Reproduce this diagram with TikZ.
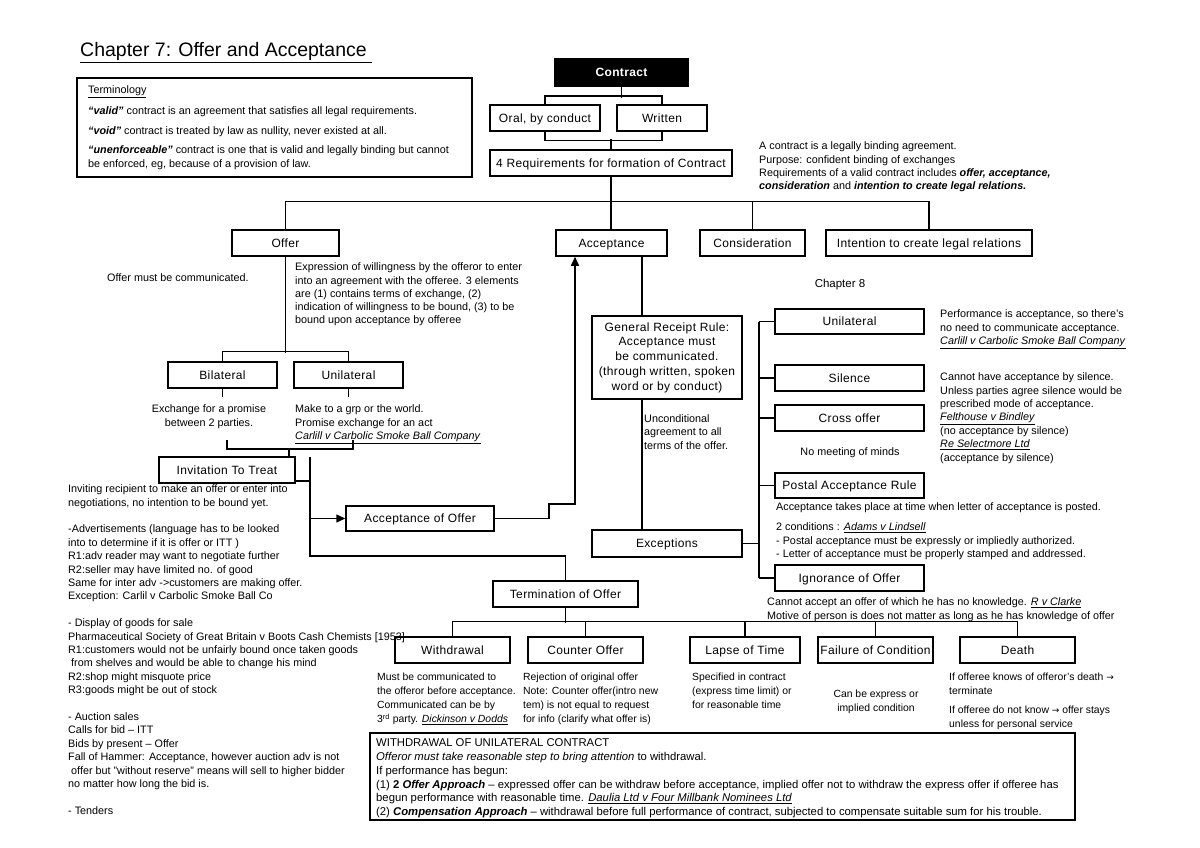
\documentclass[tikz,border=0pt]{standalone}
\usepackage{fontspec}
\setmainfont{Liberation Sans}
\newfontfamily\boxf[LetterSpace=3]{Liberation Sans}
\newfontfamily\dvf{DejaVu Sans}
\usetikzlibrary{arrows.meta}
\newcommand\bodyf{\fontsize{10.8}{13.6}\selectfont}
\newcommand\lblf{\boxf\fontsize{12}{14.8}\selectfont}
\newcommand\fl{\rule{0pt}{9pt}}
\newcommand\arr{{\dvf\fontsize{9}{9}\selectfont →}}
\newcommand\cas[1]{\underline{\textit{#1}}}
\newcommand\bfi[1]{\textbf{\textit{#1}}}
\newcommand\Bx[6]{\node[bx,minimum width={#4-#2},minimum height={#5-#3}] (#1) at ({(#2+#4)/2},{(#3+#5)/2}) {#6};}
\tikzset{
  bxbase/.style={draw, line width=1.5pt, inner sep=1pt, font=\lblf, align=center},
  bx/.style={bxbase, text height=8.6pt, text depth=0pt},
  ln/.style={line width=1.5pt},
  tip/.style={-{Triangle[length=9pt,width=8pt]}},
  txt/.style={anchor=north west, inner sep=0pt, align=left, font=\bodyf, yshift=9pt},
  ctxt/.style={anchor=north, inner sep=0pt, align=center, font=\bodyf, yshift=9pt},
  bigbox/.style={draw, line width=2pt, inner sep=0pt}
}
\begin{document}
\begin{tikzpicture}[x=1pt,y=-1pt]
\fill[white] (0,0) rectangle (1200,848);
\useasboundingbox (0,0) rectangle (1200,848);

% title
\node[anchor=base west, inner sep=0pt, font=\fontsize{19.5}{22}\selectfont] (title) at (80,57) {\underline{Chapter 7: Offer and Acceptance\ }};

% terminology
\node[bigbox, minimum width=395, minimum height=99] (termbox) at (274.5,127.5) {};
\node[txt] (t0) at (88,93.5) {\fl\underline{Terminology}};
\node[txt] (t1) at (88,114.5) {\fl\bfi{“valid”} contract is an agreement that satisfies all legal requirements.};
\node[txt] (t2) at (88,134.5) {\fl\bfi{“void”} contract is treated by law as nullity, never existed at all.};
\node[txt, font=\fontsize{10.8}{14}\selectfont] (t3) at (88,153.5) {\fl\bfi{“unenforceable”} contract is one that is valid and legally binding but cannot\\be enforced, eg, because of a provision of law.};

% top flow
\node[bx, fill=black, text=white, font=\lblf\bfseries, minimum width=133, minimum height=27] (contract) at (621.5,72.5) {Contract};
\Bx{oral}{490}{105}{600}{131}{Oral, by conduct}
\Bx{written}{617}{105}{707}{131}{Written}
\Bx{req}{490}{150}{732}{176}{4 Requirements for formation of Contract}
\draw[ln] (contract.south) -- ++(0,11);
\draw[ln] (oral.north) -- ++(0,-8) -| (written.north);
\draw[ln] (oral.south) -- ++(0,9) -| (written.south);
\draw[ln] (req.north) -- ++(0,-10);

\node[txt, font=\fontsize{10.8}{13.4}\selectfont] (def) at (759,149.5) {\fl A contract is a legally binding agreement.\\Purpose: confident binding of exchanges\\Requirements of a valid contract includes \bfi{offer, acceptance,}\\\bfi{consideration} and \bfi{intention to create legal relations.}};

% level 2
\Bx{offer}{232}{230}{339}{256}{Offer}
\Bx{acc}{556}{230}{667}{256}{Acceptance}
\Bx{cons}{700}{230}{805}{256}{Consideration}
\Bx{intent}{826}{230}{1032}{256}{Intention to create legal relations}
\draw[ln] (offer.north) -- ++(0,-28) -| (intent.north);
\draw[ln] (req.south) -- (req.south |- acc.north);
\draw[ln] (cons.north) -- ++(0,-28);
\node[inner sep=0pt, font=\fontsize{11.5}{13}\selectfont] (ch8) at (840,285) {Chapter 8};

% offer branch
\node[txt] (omc) at (107,281.5) {\fl Offer must be communicated.};
\node[txt, font=\fontsize{10.8}{13.3}\selectfont] (oexp) at (295,270.5) {\fl Expression of willingness by the offeror to enter\\into an agreement with the offeree. 3 elements\\are (1) contains terms of exchange, (2)\\indication of willingness to be bound, (3) to be\\bound upon acceptance by offeree};
\Bx{bil}{168}{362}{277}{388}{Bilateral}
\Bx{uni}{294}{362}{403}{388}{Unilateral}
\draw[ln] (offer.south) -- ++(0,96);
\draw[ln] (bil.north) -- ++(0,-10) -| (uni.north);
\draw[ln] (bil.south) -- ++(0,8);
\draw[ln] (uni.south) -- ++(0,8);
\node[ctxt] (bilt) at (209,412.5) {\fl Exchange for a promise\\between 2 parties.};
\node[txt] (unit) at (295,412.5) {\fl Make to a grp or the world.\\Promise exchange for an act\\\cas{Carlill v Carbolic Smoke Ball Company}};

\coordinate (bl) at (227,440);
\coordinate (br) at (353,440);
\coordinate (bm) at (289,449);
\draw[ln] (bl) -- (bl |- bm) -- (br |- bm) -- (br);
\Bx{itt}{159}{457}{295}{483}{Invitation To Treat}
\draw[ln] (bm) -- (bm |- itt.north);

\Bx{aof}{346}{506}{494}{531}{Acceptance of Offer}
\Bx{term}{493}{581}{638}{607}{Termination of Offer}
\coordinate (s1) at (310,457);
\coordinate (s2) at (310,556);
\coordinate (ie) at (295,481);
\draw[ln] (s1) -- (s2) -| (term.north);
\draw[ln] (ie) -- (ie -| s1);
\draw[ln, tip] (aof.west -| s1) -- (aof.west);
\coordinate (ua) at (575,504);
\draw[ln, tip] (aof.east) -- ++(54,0) |- (ua) -- (ua |- acc.south);

% left column
\node[txt, font=\fontsize{10.8}{13.4}\selectfont] (ittt) at (68,492.5) {\fl Inviting recipient to make an offer or enter into\\negotiations, no intention to be bound yet.\\\mbox{}\\-Advertisements (language has to be looked\\into to determine if it is offer or ITT )\\R1:adv reader may want to negotiate further\\R2:seller may have limited no. of good\\Same for inter adv ->customers are making offer.\\Exception: Carlil v Carbolic Smoke Ball Co\\\mbox{}\\- Display of goods for sale\\Pharmaceutical Society of Great Britain v Boots Cash Chemists [1953]\\R1:customers would not be unfairly bound once taken goods\\\ from shelves and would be able to change his mind\\R2:shop might misquote price\\R3:goods might be out of stock\\\mbox{}\\- Auction sales\\Calls for bid – ITT\\Bids by present – Offer\\Fall of Hammer: Acceptance, however auction adv is not\\\ offer but "without reserve" means will sell to higher bidder\\no matter how long the bid is.\\\mbox{}\\- Tenders};

% acceptance branch
\node[bxbase, minimum width=150, minimum height=83] (grr) at (667,357.5) {General Receipt Rule:\\Acceptance must\\be communicated.\\(through written, spoken\\word or by conduct)};
\Bx{exc}{592}{530}{742}{557}{Exceptions}
\coordinate (gx) at (642,0);
\draw[ln] (acc.south -| gx) -- (grr.north -| gx);
\draw[ln] (grr.south -| gx) -- (exc.north -| gx);
\node[txt] (uncond) at (644,422) {\fl Unconditional\\agreement to all\\terms of the offer.};

\Bx{ru}{775}{309}{924}{334}{Unilateral}
\Bx{sil}{775}{365}{924}{391}{Silence}
\Bx{cro}{775}{405}{924}{431}{Cross offer}
\Bx{pos}{775}{473}{924}{498}{Postal Acceptance Rule}
\Bx{ig}{775}{565}{924}{591}{Ignorance of Offer}
\coordinate (sp) at (759,0);
\draw[ln] (exc.east) -- (exc.east -| sp);
\draw[ln] (ru.west -| sp) -- (ig.west -| sp);
\foreach \n in {ru,sil,cro,pos,ig} \draw[ln] (\n.west -| sp) -- (\n.west);

\node[txt, font=\fontsize{10.8}{13.4}\selectfont] (perf) at (940,317.5) {\fl Performance is acceptance, so there's\\no need to communicate acceptance.\\\cas{Carlill v Carbolic Smoke Ball Company}};
\node[txt, font=\fontsize{10.8}{13.4}\selectfont] (silt) at (940,380.5) {\fl Cannot have acceptance by silence.\\Unless parties agree silence would be\\prescribed mode of acceptance.\\\cas{Felthouse v Bindley}\\(no acceptance by silence)\\\cas{Re Selectmore Ltd}\\(acceptance by silence)};
\node[inner sep=0pt, font=\bodyf, anchor=base] (nomm) at (850,455.5) {No meeting of minds};
\node[txt] (post1) at (776,510.5) {\fl Acceptance takes place at time when letter of acceptance is posted.};
\node[txt, font=\fontsize{10.8}{13.5}\selectfont] (post2) at (776,530.5) {\fl 2 conditions : \cas{Adams v Lindsell}\\- Postal acceptance must be expressly or impliedly authorized.\\- Letter of acceptance must be properly stamped and addressed.};
\node[txt, font=\fontsize{10.8}{14}\selectfont] (ignt) at (767,605.5) {\fl Cannot accept an offer of which he has no knowledge. \cas{R v Clarke}\\Motive of person is does not matter as long as he has knowledge of offer};

% termination branch
\Bx{wd}{395}{637}{510}{663}{Withdrawal}
\Bx{co}{528}{637}{643}{663}{Counter Offer}
\Bx{lt}{690}{637}{800}{663}{Lapse of Time}
\Bx{fc}{818}{637}{933}{663}{Failure of Condition}
\Bx{dt}{960}{637}{1075}{663}{Death}
\draw[ln] (term.south) -- ++(0,15);
\draw[ln] (wd.north) -- ++(0,-15) -| (dt.north);
\foreach \n in {co,lt,fc} \draw[ln] (\n.north) -- ++(0,-15);

\node[txt, font=\fontsize{10.4}{14}\selectfont] (wdt) at (377,680.5) {\fl Must be communicated to\\the offeror before acceptance.\\Communicated can be by\\3\textsuperscript{rd} party. \cas{Dickinson v Dodds}};
\node[txt, font=\fontsize{10.4}{14}\selectfont] (cot) at (523,680.5) {\fl Rejection of original offer\\Note: Counter offer(intro new\\tem) is not equal to request\\for info (clarify what offer is)};
\node[txt, font=\fontsize{10.4}{14}\selectfont] (ltt) at (692,680.5) {\fl Specified in contract\\(express time limit) or\\for reasonable time};
\node[ctxt, font=\fontsize{10.4}{14}\selectfont] (fct) at (876,697.5) {\fl Can be express or\\implied condition};
\node[txt, font=\fontsize{10.4}{14}\selectfont] (dtt1) at (949,680.5) {\fl If offeree knows of offeror's death \arr\\terminate};
\node[txt, font=\fontsize{10.4}{14}\selectfont] (dtt2) at (949,713.5) {\fl If offeree do not know \arr{} offer stays\\unless for personal service};

% withdrawal of unilateral contract
\node[bigbox, minimum width=705, minimum height=87] (wuc) at (722.5,776.5) {};
\node[txt, font=\fontsize{11.3}{13.8}\selectfont] (wuct) at (376,746.5) {\fl WITHDRAWAL OF UNILATERAL CONTRACT\\\textit{Offeror must take reasonable step to bring attention} to withdrawal.\\If performance has begun:\\(1) \textbf{2 \textit{Offer Approach}} – expressed offer can be withdraw before acceptance, implied offer not to withdraw the express offer if offeree has\\begun performance with reasonable time. \cas{Daulia Ltd v Four Millbank Nominees Ltd}\\(2) \bfi{Compensation Approach} – withdrawal before full performance of contract, subjected to compensate suitable sum for his trouble.};
\end{tikzpicture}
\end{document}
